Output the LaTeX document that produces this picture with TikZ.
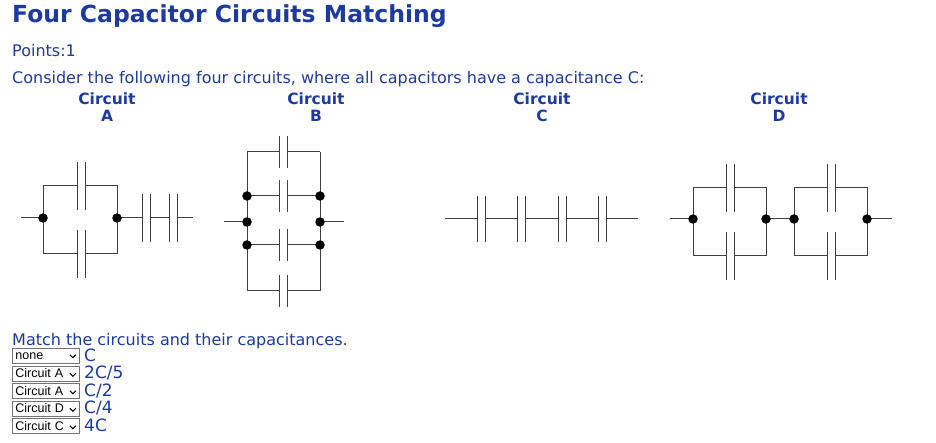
\documentclass[tikz,border=0pt]{standalone}
\usepackage{fontspec}
\setmainfont{DejaVu Sans}
\newfontfamily\selfont{Liberation Sans}
\definecolor{qblue}{HTML}{1C3AA0}
\begin{document}
\begin{tikzpicture}[x=1pt,y=-1pt,
  wire/.style={line width=1pt,draw=black!75},
  dot/.style={circle,fill=black,inner sep=0pt,minimum size=9.5pt},
  txt/.style={text=qblue,anchor=base west,inner sep=0pt,font=\fontsize{16}{16}\selectfont},
  lab/.style={text=qblue,align=center,font=\bfseries\fontsize{15.5}{17.5}\selectfont,inner sep=0pt},
  sel/.style={draw=black!55,line width=0.8pt,minimum width=67pt,minimum height=15pt,inner sep=2pt,anchor=north west,font=\selfont\fontsize{12.5}{12.5}\selectfont,text width=61pt}]
\useasboundingbox (0,0) rectangle (936,443);
\newcommand{\capH}[3]{% horizontal-wire capacitor centered at x=#1,y=#2, half height #3
  \draw[wire] (#1-4,#2-#3) -- (#1-4,#2+#3) (#1+4,#2-#3) -- (#1+4,#2+#3);}
\node[txt,font=\bfseries\fontsize{23.5}{23.5}\selectfont] (title) at (12,23) {Four Capacitor Circuits Matching};
\node[txt] (pts) at (12,57) {Points:1};
\node[txt] (q) at (12,84) {Consider the following four circuits, where all capacitors have a capacitance C:};
\node[lab] (la) at (107,107) {Circuit\\A};
\node[lab] (lb) at (316,107) {Circuit\\B};
\node[lab] (lc) at (542,107) {Circuit\\C};
\node[lab] (ld) at (779,107) {Circuit\\D};
% Circuit A
\draw[wire] (21,218) -- (43,218) -- (43,186) -- (77,186) (85,186) -- (117,186) -- (117,218) -- (142,218)
  (43,218) -- (43,254) -- (77,254) (85,254) -- (117,254) -- (117,218)
  (150,218) -- (169,218) (177,218) -- (193,218);
\capH{81}{186}{24}\capH{81}{254}{24}\capH{146}{218}{24}\capH{173}{218}{24}
\node[dot] (a1) at (43,218) {}; \node[dot] (a2) at (117,218) {};
% Circuit B
\draw[wire] (247,152) -- (247,291) (320,152) -- (320,291) (224,222) -- (247,222) (320,222) -- (344,222);
\foreach \y in {152,196,245,291} {\draw[wire] (247,\y) -- (279.5,\y) (287.5,\y) -- (320,\y); \capH{283.5}{\y}{16}}
\foreach \y in {196,222,245} {\node[dot] at (247,\y) {}; \node[dot] at (320,\y) {};}
% Circuit C
\draw[wire] (445,219) -- (477,219) (485,219) -- (517,219) (525,219) -- (558,219) (566,219) -- (598,219) (606,219) -- (638,219);
\foreach \x in {481,521,562,602} {\capH{\x}{219}{23}}
% Circuit D
\foreach \l/\r/\c in {693/766/730,794/867/831} {
  \draw[wire] (\l,222) -- (\l,188) -- (\c-4,188) (\c+4,188) -- (\r,188) -- (\r,256) -- (\c+4,256) (\c-4,256) -- (\l,256) -- (\l,222);
  \capH{\c}{188}{24}\capH{\c}{256}{24}}
\draw[wire] (670,219) -- (693,219) (766,219) -- (794,219) (867,219) -- (892,219);
\foreach \x in {693,766,794,867} {\node[dot] at (\x,219) {};}
% matching
\node[txt] (m) at (12,345) {Match the circuits and their capacitances.};
\foreach \i/\s/\v in {0/none/C,1/Circuit A/2C\slash 5,2/Circuit A/C\slash 2,3/Circuit D/C\slash 4,4/Circuit C/4C} {
  \node[sel] (s\i) at (12,348+17.5*\i) {\s\hfill\raisebox{1pt}{\tikz[x=1pt,y=1pt]\draw[line width=1.1pt] (0,3)--(3,0)--(6,3);}};
  \node[txt,font=\fontsize{17}{17}\selectfont] (v\i) at (84,361+17.5*\i) {\v};
}
\end{tikzpicture}
\end{document}
